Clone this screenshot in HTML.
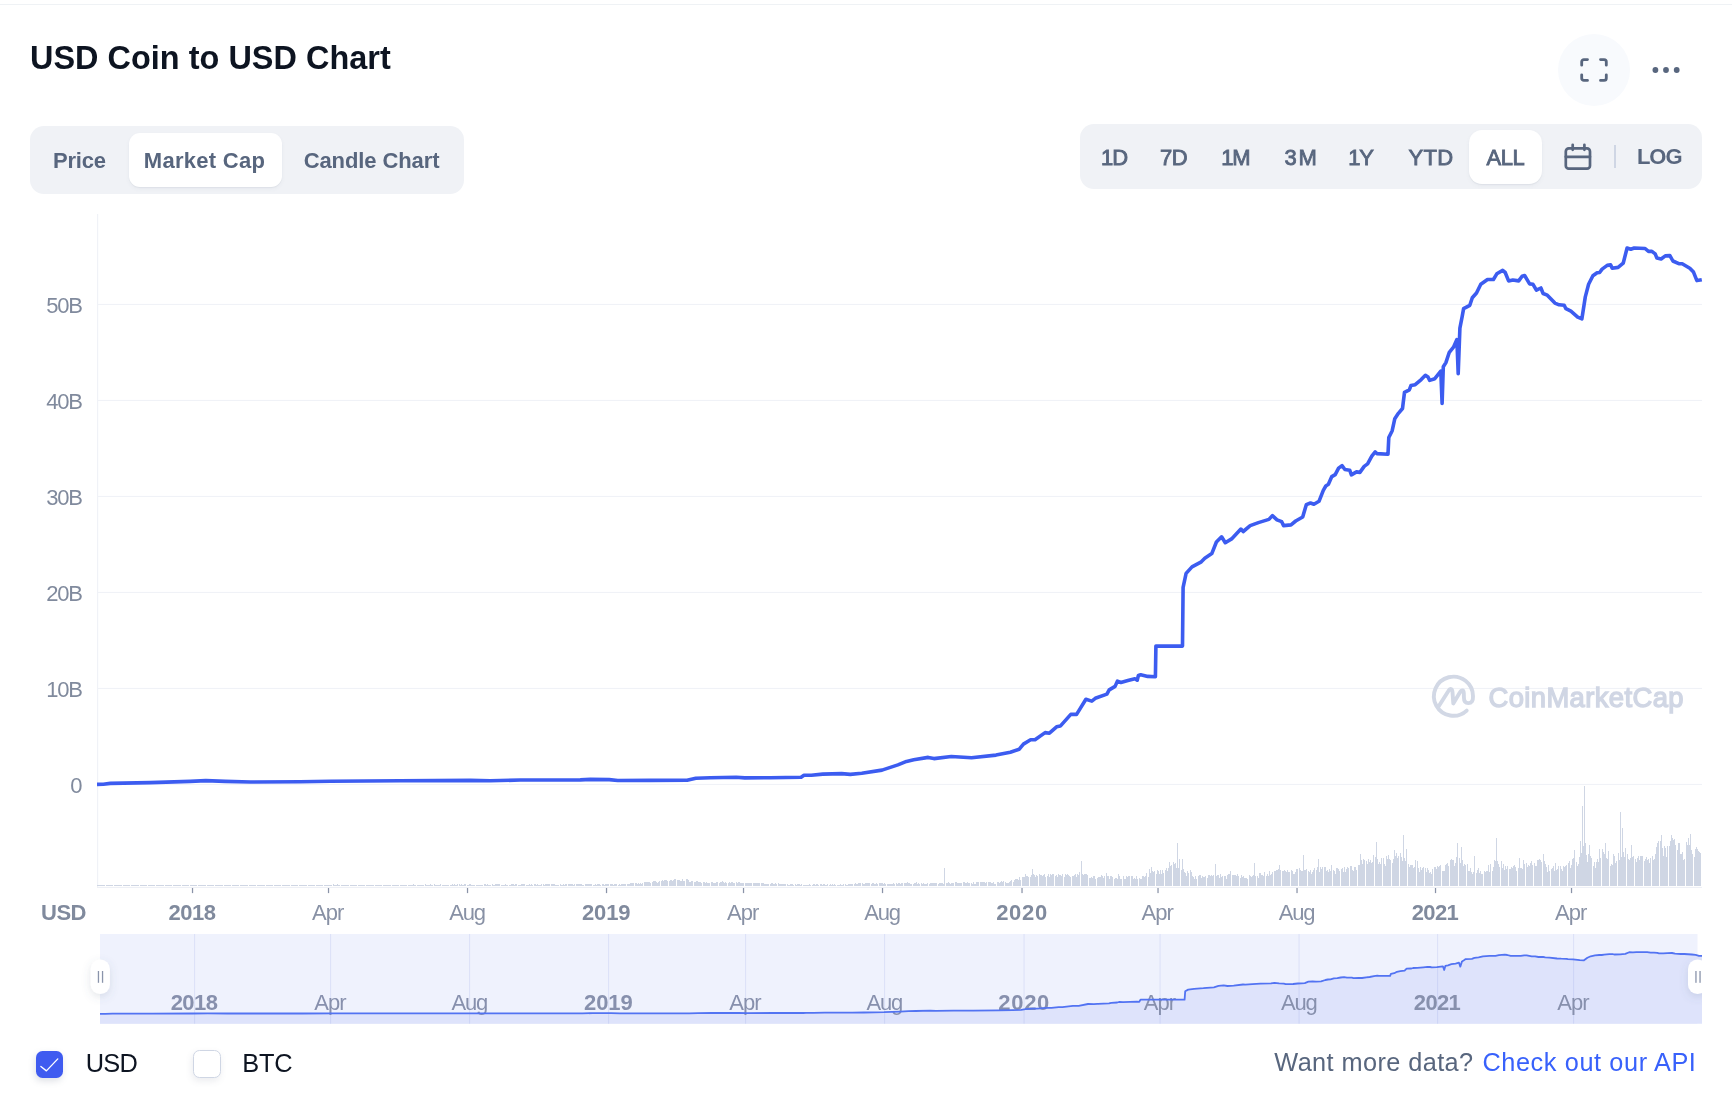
<!DOCTYPE html>
<html><head><meta charset="utf-8"><title>USD Coin to USD Chart</title>
<style>
html,body{margin:0;padding:0;background:#fff;}
body{width:1732px;height:1116px;position:relative;overflow:hidden;font-family:"Liberation Sans",sans-serif;}
#w{position:absolute;left:0;top:0;width:1732px;height:1116px;will-change:transform;}
.abs{position:absolute;white-space:nowrap;}
.topline{left:0;top:3.5px;width:1732px;height:1.5px;background:#eff2f5;}
.seg{background:#f0f2f6;border-radius:14px;}
.pill{background:#fff;border-radius:11px;box-shadow:0 1px 1px rgba(88,102,126,.08),0 2px 4px rgba(88,102,126,.05);}
.circ{left:1558px;top:34px;width:72px;height:72px;border-radius:50%;background:#f8fafd;}
svg.chart{position:absolute;left:0;top:0;}
svg text{font-family:"Liberation Sans",sans-serif;white-space:pre;}
.cb{width:27px;height:27px;border-radius:6.5px;box-sizing:border-box;}
</style></head><body><div id="w">
<div class="abs topline"></div>

<div class="abs circ"></div>
<svg class="abs" style="left:1576px;top:52px" width="36" height="36" viewBox="0 0 36 36" fill="none" stroke="#58667e" stroke-width="2.8" stroke-linecap="round" stroke-linejoin="round">
<path d="M5.7 13.2V9.8a2.2 2.2 0 0 1 2.2-2.2h3.6M24.5 7.6h3.6a2.2 2.2 0 0 1 2.2 2.2v3.4M30.3 22.8v3.4a2.2 2.2 0 0 1-2.2 2.2h-3.6M11.5 28.4H7.9a2.2 2.2 0 0 1-2.2-2.2v-3.4"/>
</svg>
<svg class="abs" style="left:1648px;top:62px" width="36" height="16" viewBox="0 0 36 16"><circle cx="7.4" cy="8" r="2.9" fill="#58667e"/><circle cx="18" cy="8" r="2.9" fill="#58667e"/><circle cx="28.7" cy="8" r="2.9" fill="#58667e"/></svg>

<div class="abs seg" style="left:30px;top:126px;width:434px;height:68px;"></div>
<div class="abs pill" style="left:129px;top:133px;width:153px;height:53.5px;"></div>

<div class="abs seg" style="left:1080px;top:124px;width:622px;height:65px;"></div>
<div class="abs pill" style="left:1469.2px;top:130px;width:72.8px;height:53.9px;border-radius:13px;"></div>
<svg class="abs" style="left:1560px;top:139px" width="36" height="36" viewBox="0 0 36 36" fill="none" stroke="#58667e" stroke-width="2.7" stroke-linecap="round" stroke-linejoin="round">
<rect x="5.8" y="9.4" width="24.2" height="20.3" rx="3"/><path d="M5.8 17.8H30M12.7 5.8v5M24.4 5.8v5"/>
</svg>
<div class="abs" style="left:1614.3px;top:145px;width:1.6px;height:23px;background:#cfd6e4;"></div>

<div class="abs cb" style="left:36px;top:1050.6px;background:#3f5bf0;box-shadow:-1px 3px 7px rgba(88,102,126,.2);"></div>
<svg class="abs" style="left:36px;top:1050.6px" width="27" height="27" viewBox="0 0 27 27" fill="none" stroke="#fff" stroke-width="1.35" stroke-linecap="round" stroke-linejoin="round"><path d="M4.9 15.5L10.4 19.9L21.8 7.9"/></svg>
<div class="abs cb" style="left:193.4px;top:1050.3px;width:27.4px;height:27.6px;background:#fff;border:1.2px solid #cfd6e4;box-shadow:-1px 3px 7px rgba(88,102,126,.12);"></div>

<svg class="chart" width="1732" height="1116" viewBox="0 0 1732 1116" font-family="Liberation Sans, sans-serif">
<defs><clipPath id="nc"><rect x="100" y="930" width="1602" height="100"/></clipPath><filter id="sh" x="-100%" y="-50%" width="300%" height="220%"><feDropShadow dx="0" dy="3" stdDeviation="4" flood-color="#58667e" flood-opacity="0.17"/></filter></defs>
<rect x="97" y="303.9" width="1605" height="1.1" fill="#f0f2f7"/>
<rect x="97" y="399.9" width="1605" height="1.1" fill="#f0f2f7"/>
<rect x="97" y="495.9" width="1605" height="1.1" fill="#f0f2f7"/>
<rect x="97" y="591.9" width="1605" height="1.1" fill="#f0f2f7"/>
<rect x="97" y="687.9" width="1605" height="1.1" fill="#f0f2f7"/>
<rect x="97" y="783.9" width="1605" height="1.1" fill="#f0f2f7"/>
<rect x="97" y="214" width="1.2" height="674" fill="#f0f2f7"/>
<rect x="97" y="886.9" width="1605" height="1.1" fill="#eef0f6"/>
<path d="M1466.7 710.6 A19.55 19.55 0 1 1 1473 696.3 C1473.2 700.6 1471.6 703.1 1468.3 703.1 C1465.4 703.1 1463.9 700.6 1463.9 697.2 L1463.8 693.4 C1463.7 690 1461.6 689.3 1460 692.2 L1453.3 703.4 L1452.5 692.2 C1452.2 688.6 1450.1 688 1448.4 691 L1438.4 706.8" fill="none" stroke="#d2d8e5" stroke-width="3.9" stroke-linecap="round" stroke-linejoin="round"/>
<text x="1488.47" y="707.2" font-size="27.4" font-weight="400" fill="#d0d6e4" letter-spacing="0.4" stroke="#d0d6e4" stroke-width="1.35">CoinMarketCap</text>
<path d="M97.5 884.9V886M98.5 884.8V886M99.5 884.8V886M100.5 884.9V886M101.5 885V886M102.5 885V886M103.5 884.9V886M104.5 885V886M106.5 884.8V886M107.5 884.8V886M108.5 884.7V886M109.5 884.7V886M110.5 884.9V886M111.5 884.9V886M112.5 884.9V886M114.5 884.8V886M115.5 884.8V886M116.5 884.9V886M117.5 884.8V886M118.5 884.9V886M119.5 884.8V886M120.5 884.7V886M121.5 884.9V886M123.5 884.8V886M124.5 884.8V886M125.5 884.7V886M126.5 884.8V886M127.5 884.9V886M128.5 885V886M129.5 884.8V886M131.5 884.7V886M132.5 884.7V886M133.5 884.8V886M134.5 884.7V886M135.5 884.8V886M136.5 884.9V886M137.5 884.8V886M138.5 884.7V886M140.5 884.8V886M141.5 884.9V886M142.5 884.9V886M143.5 885V886M144.5 885V886M145.5 884.9V886M146.5 885V886M148.5 884.8V886M149.5 884.7V886M150.5 884.9V886M151.5 884.9V886M152.5 884.7V886M153.5 884.9V886M154.5 884.9V886M156.5 884.8V886M157.5 885V886M158.5 884.9V886M159.5 884.7V886M160.5 884.8V886M161.5 884.8V886M162.5 884.7V886M163.5 884.7V886M165.5 884.8V886M166.5 884.9V886M167.5 885V886M168.5 884.9V886M169.5 884.9V886M170.5 885V886M171.5 885V886M173.5 885V886M174.5 884.8V886M175.5 884.9V886M176.5 884.9V886M177.5 884.7V886M178.5 884.8V886M179.5 884.9V886M180.5 884.9V886M182.5 884.7V886M183.5 884.9V886M184.5 884.8V886M185.5 884.8V886M186.5 884.8V886M187.5 884.7V886M188.5 884.8V886M190.5 884.9V886M191.5 884.8V886M192.5 884.9V886M193.5 884.7V886M194.5 884.7V886M195.5 884.7V886M196.5 884.8V886M198.5 884.8V886M199.5 885V886M200.5 884.9V886M201.5 884.7V886M202.5 884.7V886M203.5 884.7V886M204.5 884.8V886M205.5 884.9V886M207.5 884.8V886M208.5 884.7V886M209.5 884.7V886M210.5 884.9V886M211.5 884.7V886M212.5 884.7V886M213.5 884.9V886M215.5 884.9V886M216.5 884.7V886M217.5 884.8V886M218.5 884.7V886M219.5 884.9V886M220.5 884.7V886M221.5 884.9V886M222.5 884.7V886M224.5 884.8V886M225.5 884.9V886M226.5 884.7V886M227.5 884.8V886M228.5 884.8V886M229.5 884.7V886M230.5 884.9V886M232.5 884.9V886M233.5 884.9V886M234.5 884.9V886M235.5 884.9V886M236.5 884.8V886M237.5 884.8V886M238.5 884.8V886M240.5 884.8V886M241.5 884.8V886M242.5 885V886M243.5 884.9V886M244.5 884.8V886M245.5 884.9V886M246.5 884.8V886M247.5 884.9V886M249.5 884.9V886M250.5 884.8V886M251.5 884.8V886M252.5 884.7V886M253.5 884.8V886M254.5 884.8V886M255.5 884.8V886M257.5 884.8V886M258.5 884.8V886M259.5 884.7V886M260.5 884.8V886M261.5 884.7V886M262.5 884.9V886M263.5 884.9V886M264.5 885V886M266.5 884.8V886M267.5 884.9V886M268.5 884.8V886M269.5 884.7V886M270.5 884.9V886M271.5 884.8V886M272.5 884.7V886M274.5 884.9V886M275.5 884.8V886M276.5 884.9V886M277.5 884.8V886M278.5 884.8V886M279.5 884.9V886M280.5 884.8V886M282.5 884.9V886M283.5 884.8V886M284.5 884.9V886M285.5 885V886M286.5 884.9V886M287.5 884.9V886M288.5 884.7V886M289.5 884.9V886M291.5 884.8V886M292.5 884.9V886M293.5 884.8V886M294.5 884.9V886M295.5 884.8V886M296.5 884.9V886M297.5 885V886M299.5 884.9V886M300.5 884.8V886M301.5 884.9V886M302.5 884.8V886M303.5 884.9V886M304.5 885V886M305.5 884.9V886M306.5 884.8V886M308.5 884.8V886M309.5 884.8V886M310.5 884.9V886M311.5 884.8V886M312.5 884.9V886M313.5 884.7V886M314.5 884.7V886M316.5 884.8V886M317.5 884.8V886M318.5 884.8V886M319.5 884.8V886M320.5 884.8V886M321.5 884.8V886M322.5 884.9V886M324.5 885V886M325.5 884.9V886M326.5 885V886M327.5 884.8V886M328.5 884.9V886M329.5 884.9V886M330.5 884.9V886M331.5 884.8V886M333.5 884.4V886M334.5 884.6V886M335.5 884.6V886M336.5 884.8V886M337.5 883.5V886M338.5 884.6V886M339.5 884.8V886M341.5 884.8V886M342.5 884.9V886M343.5 884.8V886M344.5 884.7V886M345.5 884.7V886M346.5 884.7V886M347.5 884.8V886M348.5 884.7V886M350.5 884.7V886M351.5 884.9V886M352.5 884.7V886M353.5 884.7V886M354.5 884.9V886M355.5 884.8V886M356.5 884.7V886M358.5 884.7V886M359.5 884.7V886M360.5 884.8V886M361.5 884.9V886M362.5 884.9V886M363.5 884.8V886M364.5 884.7V886M366.5 884.7V886M367.5 884.7V886M368.5 884.7V886M369.5 884.7V886M370.5 884.6V886M371.5 884.8V886M372.5 884.7V886M373.5 884.6V886M375.5 884.7V886M376.5 884.7V886M377.5 884.6V886M378.5 884.6V886M379.5 884.8V886M380.5 884.6V886M381.5 884.6V886M383.5 884.8V886M384.5 884.6V886M385.5 884.6V886M386.5 884.6V886M387.5 884.6V886M388.5 884.5V886M389.5 884.5V886M390.5 884.7V886M392.5 884.6V886M393.5 884.6V886M394.5 884.7V886M395.5 884.7V886M396.5 884.8V886M397.5 884.5V886M398.5 884.5V886M400.5 884.5V886M401.5 884.6V886M402.5 884.6V886M403.5 884.8V886M404.5 884.7V886M405.5 884.7V886M406.5 884.7V886M408.5 884.8V886M409.5 884.5V886M410.5 884.5V886M411.5 884.5V886M412.5 884.6V886M413.5 884.4V886M414.5 884.6V886M415.5 884.6V886M417.5 884.7V886M418.5 884.7V886M419.5 884.7V886M420.5 884.6V886M421.5 884.6V886M422.5 884.5V886M423.5 884.5V886M425.5 884.4V886M426.5 884.5V886M427.5 884.5V886M428.5 884.5V886M429.5 884.6V886M430.5 884.4V886M431.5 884.5V886M432.5 884.6V886M434.5 884.4V886M435.5 884.5V886M436.5 884.5V886M437.5 884.6V886M438.5 884.7V886M439.5 884.6V886M440.5 884.4V886M442.5 884.5V886M443.5 884.6V886M444.5 884.6V886M445.5 884.7V886M446.5 884.5V886M447.5 884.5V886M448.5 884.5V886M450.5 884.6V886M451.5 884.7V886M452.5 884.4V886M453.5 884.5V886M454.5 884.4V886M455.5 884.6V886M456.5 884.6V886M457.5 884.4V886M459.5 884.4V886M460.5 884.6V886M461.5 884.4V886M462.5 884.5V886M463.5 884.5V886M464.5 884.4V886M465.5 884.3V886M467.5 884.6V886M468.5 884.5V886M469.5 884.4V886M470.5 884.4V886M471.5 884.5V886M472.5 884.7V886M473.5 884.6V886M474.5 884.5V886M476.5 884.6V886M477.5 884.5V886M478.5 884.7V886M479.5 884.5V886M480.5 884.6V886M481.5 884.5V886M482.5 884.6V886M484.5 884.4V886M485.5 884.4V886M486.5 884.5V886M487.5 884.3V886M488.5 884.5V886M489.5 884.5V886M490.5 884.5V886M492.5 884.4V886M493.5 884.6V886M494.5 884.6V886M495.5 884.4V886M496.5 884.4V886M497.5 884.4V886M498.5 884.3V886M499.5 884.3V886M501.5 884.5V886M502.5 884.5V886M503.5 884.5V886M504.5 884.6V886M505.5 884.4V886M506.5 884.6V886M507.5 884.6V886M509.5 884.6V886M510.5 884.7V886M511.5 884.4V886M512.5 884.4V886M513.5 884.3V886M514.5 884.5V886M515.5 884.4V886M516.5 884.4V886M518.5 884.5V886M519.5 884.6V886M520.5 884.6V886M521.5 884.3V886M522.5 884.3V886M523.5 884.4V886M524.5 884.3V886M526.5 884.6V886M527.5 884.5V886M528.5 884.6V886M529.5 884.3V886M530.5 884.5V886M531.5 884.4V886M532.5 884.6V886M534.5 884.3V886M535.5 884.3V886M536.5 884.5V886M537.5 884.3V886M538.5 884.5V886M539.5 884.5V886M540.5 884.6V886M541.5 884.3V886M543.5 884.3V886M544.5 884.5V886M545.5 884.3V886M546.5 884.4V886M547.5 884.4V886M548.5 884.3V886M549.5 884.3V886M551.5 884.3V886M552.5 884.3V886M553.5 884.4V886M554.5 884.3V886M555.5 884.5V886M556.5 884.5V886M557.5 884.6V886M558.5 884.5V886M560.5 884.3V886M561.5 884.5V886M562.5 884.6V886M563.5 884.4V886M564.5 884.5V886M565.5 884.4V886M566.5 884.3V886M568.5 884.3V886M569.5 884.2V886M570.5 884.3V886M571.5 884.3V886M572.5 884.4V886M573.5 884.5V886M574.5 884.4V886M576.5 884.4V886M577.5 884.4V886M578.5 884.2V886M579.5 884.1V886M580.5 884.3V886M581.5 884.2V886M582.5 884.5V886M583.5 884.5V886M585.5 884.2V886M586.5 884.1V886M587.5 884.1V886M588.5 884.4V886M589.5 884.1V886M590.5 884.2V886M591.5 884.4V886M593.5 884.5V886M594.5 884.5V886M595.5 884.3V886M596.5 884.6V886M597.5 884.3V886M598.5 884.4V886M599.5 884.2V886M600.5 884.5V886M602.5 884.4V886M603.5 884.2V886M604.5 884.5V886M605.5 884.4V886M606.5 884.4V886M607.5 884.4V886M608.5 884.4V886M610.5 884.1V886M611.5 884.3V886M612.5 884.1V886M613.5 884.5V886M614.5 884.3V886M615.5 884.3V886M616.5 884.3V886M618.5 884.6V886M619.5 884.2V886M620.5 884.5V886M621.5 884.3V886M622.5 884.4V886M623.5 884.1V886M624.5 884.4V886M625.5 883.8V886M627.5 884.2V886M628.5 883.5V886M629.5 883.7V886M630.5 883.2V886M631.5 883.1V886M632.5 883V886M633.5 883V886M635.5 883.4V886M636.5 882.9V886M637.5 883.7V886M638.5 883.3V886M639.5 884V886M640.5 882.9V886M641.5 884V886M642.5 882.5V886M644.5 882V886M645.5 882.1V886M646.5 881.9V886M647.5 882.2V886M648.5 882.1V886M649.5 882V886M650.5 883.1V886M652.5 881.9V886M653.5 881V886M654.5 881.4V886M655.5 881.4V886M656.5 882.3V886M657.5 882.6V886M658.5 881.5V886M659.5 880.9V886M661.5 880.5V886M662.5 879.5V886M663.5 880.8V886M664.5 879.8V886M665.5 879.7V886M666.5 879.9V886M667.5 881.1V886M669.5 880.6V886M670.5 879.6V886M671.5 879.6V886M672.5 881.2V886M673.5 879.7V886M674.5 879.1V886M675.5 879V886M677.5 879.5V886M678.5 880.4V886M679.5 879.7V886M680.5 881.1V886M681.5 881V886M682.5 879.2V886M683.5 880.5V886M684.5 880.8V886M686.5 879.1V886M687.5 879.1V886M688.5 880.4V886M689.5 882.3V886M690.5 881.7V886M691.5 881.3V886M692.5 880.9V886M694.5 881.8V886M695.5 881.8V886M696.5 881.4V886M697.5 881.2V886M698.5 881.5V886M699.5 881.6V886M700.5 882.1V886M701.5 882.9V886M703.5 881.9V886M704.5 881.9V886M705.5 882.7V886M706.5 881.8V886M707.5 883V886M708.5 883V886M709.5 882.8V886M711.5 882V886M712.5 881.8V886M713.5 882.7V886M714.5 882.6V886M715.5 883V886M716.5 881.6V886M717.5 882.1V886M719.5 883V886M720.5 882.1V886M721.5 881.8V886M722.5 881.3V886M723.5 882.3V886M724.5 882.9V886M725.5 882.4V886M726.5 883.1V886M728.5 883.3V886M729.5 881.6V886M730.5 882.7V886M731.5 882.2V886M732.5 881.8V886M733.5 882.5V886M734.5 883.2V886M736.5 882.2V886M737.5 883.4V886M738.5 882.4V886M739.5 882.3V886M740.5 883.1V886M741.5 883.3V886M742.5 883.3V886M743.5 882.8V886M745.5 882.8V886M746.5 882.9V886M747.5 882.7V886M748.5 883.3V886M749.5 882.5V886M750.5 882.5V886M751.5 883.3V886M753.5 882.8V886M754.5 882.8V886M755.5 882.6V886M756.5 883.4V886M757.5 883V886M758.5 883V886M759.5 883.2V886M761.5 883V886M762.5 883.3V886M763.5 883.2V886M764.5 883.7V886M765.5 884.1V886M766.5 884.1V886M767.5 884.3V886M768.5 883.9V886M770.5 884.4V886M771.5 883.4V886M772.5 883.3V886M773.5 884.2V886M774.5 883.9V886M775.5 883.3V886M776.5 884.3V886M778.5 883.3V886M779.5 884.2V886M780.5 884.4V886M781.5 883.5V886M782.5 883.7V886M783.5 883.7V886M784.5 884.4V886M785.5 883.7V886M787.5 884.2V886M788.5 884.7V886M789.5 884.5V886M790.5 884.4V886M791.5 883.7V886M792.5 883.8V886M793.5 884.7V886M795.5 884.4V886M796.5 884.5V886M797.5 884.3V886M798.5 884V886M799.5 884V886M800.5 884.9V886M801.5 884.2V886M803.5 885V886M804.5 884.5V886M805.5 884.9V886M806.5 884.7V886M807.5 884.8V886M808.5 884.8V886M809.5 884.3V886M810.5 884.9V886M812.5 885V886M813.5 884.4V886M814.5 884.3V886M815.5 884.5V886M816.5 884.1V886M817.5 884V886M818.5 884.6V886M820.5 884V886M821.5 884.4V886M822.5 884.7V886M823.5 884.4V886M824.5 884.2V886M825.5 884.5V886M826.5 884.8V886M827.5 884.3V886M829.5 884.8V886M830.5 884.2V886M831.5 884.8V886M832.5 884.1V886M833.5 884.7V886M834.5 884.3V886M835.5 884.8V886M837.5 884.8V886M838.5 884.5V886M839.5 884.7V886M840.5 884V886M841.5 884.8V886M842.5 884.9V886M843.5 883.9V886M845.5 883.9V886M846.5 884.5V886M847.5 884.7V886M848.5 884.4V886M849.5 884.3V886M850.5 883.8V886M851.5 883.8V886M852.5 884.4V886M854.5 884.1V886M855.5 883.4V886M856.5 883.6V886M857.5 883.7V886M858.5 883.3V886M859.5 883.2V886M860.5 883V886M862.5 883.2V886M863.5 883.7V886M864.5 884.2V886M865.5 883.2V886M866.5 883.2V886M867.5 883.4V886M868.5 883.2V886M869.5 883V886M871.5 883.8V886M872.5 882.9V886M873.5 883.2V886M874.5 884V886M875.5 884V886M876.5 882.7V886M877.5 883.8V886M879.5 883.1V886M880.5 883V886M881.5 882.6V886M882.5 883V886M883.5 883.5V886M884.5 883.3V886M885.5 883.8V886M887.5 883.5V886M888.5 883.6V886M889.5 884.1V886M890.5 883.5V886M891.5 883.5V886M892.5 883.7V886M893.5 882.5V886M894.5 883.5V886M896.5 883.3V886M897.5 883.8V886M898.5 882.7V886M899.5 883V886M900.5 883.5V886M901.5 883.4V886M902.5 882.6V886M904.5 883V886M905.5 882.9V886M906.5 882.5V886M907.5 882.4V886M908.5 883V886M909.5 883.1V886M910.5 884V886M911.5 883.6V886M913.5 883.6V886M914.5 883.3V886M915.5 882.9V886M916.5 882.4V886M917.5 883.7V886M918.5 882.5V886M919.5 883.6V886M921.5 882.9V886M922.5 883.9V886M923.5 882.9V886M924.5 883.8V886M925.5 883.7V886M926.5 883.5V886M927.5 882.6V886M929.5 883.6V886M930.5 882.9V886M931.5 882.8V886M932.5 882.5V886M933.5 883.4V886M934.5 883V886M935.5 883.1V886M936.5 882.9V886M938.5 883.5V886M939.5 883.1V886M940.5 883.1V886M941.5 883.1V886M942.5 882.9V886M943.5 883.9V886M944.5 868V886M946.5 882.8V886M947.5 883.2V886M948.5 882.3V886M949.5 882.6V886M950.5 883.7V886M951.5 882.7V886M952.5 883.2V886M953.5 882.9V886M955.5 882.3V886M956.5 882.4V886M957.5 883V886M958.5 883.1V886M959.5 882.8V886M960.5 883.4V886M961.5 883.1V886M963.5 882.4V886M964.5 882.2V886M965.5 882.6V886M966.5 882.6V886M967.5 882.4V886M968.5 883V886M969.5 883.1V886M971.5 882.6V886M972.5 883.7V886M973.5 882.2V886M974.5 883.6V886M975.5 883.9V886M976.5 882.2V886M977.5 882.4V886M978.5 881.9V886M980.5 882.2V886M981.5 882.1V886M982.5 882.1V886M983.5 882.1V886M984.5 882V886M985.5 883V886M986.5 882.1V886M988.5 882.2V886M989.5 881.9V886M990.5 882.2V886M991.5 882.8V886M992.5 882.9V886M993.5 882.3V886M994.5 883.5V886M995.5 883.7V886M997.5 882.2V886M998.5 881.7V886M999.5 883.3V886M1000.5 882.3V886M1001.5 881.3V886M1002.5 881.9V886M1003.5 881.4V886M1005.5 882.4V886M1006.5 882.9V886M1007.5 882.6V886M1008.5 882.6V886M1009.5 881.5V886M1010.5 880.6V886M1011.5 880.1V886M1013.5 881.6V886M1014.5 879.8V886M1015.5 879.4V886M1016.5 879.2V886M1017.5 879.4V886M1018.5 880V886M1019.5 876.7V886M1020.5 880V886M1022.5 876.5V886M1023.5 877V886M1024.5 877.3V886M1025.5 873.5V886M1026.5 876.4V886M1027.5 876.1V886M1028.5 877.4V886M1030.5 876.6V886M1031.5 875.3V886M1032.5 869.4V886M1033.5 874V886M1034.5 874.9V886M1035.5 877.3V886M1036.5 874.9V886M1037.5 876.2V886M1039.5 873.8V886M1040.5 874.7V886M1041.5 875.3V886M1042.5 875.8V886M1043.5 875V886M1044.5 874.2V886M1045.5 877.4V886M1047.5 876V886M1048.5 874.4V886M1049.5 877.4V886M1050.5 874.4V886M1051.5 874.9V886M1052.5 873.9V886M1053.5 874.2V886M1055.5 875.5V886M1056.5 875V886M1057.5 876.6V886M1058.5 873.8V886M1059.5 874.6V886M1060.5 875.1V886M1061.5 876.3V886M1062.5 874.2V886M1064.5 877V886M1065.5 874.4V886M1066.5 874.8V886M1067.5 873.6V886M1068.5 874.8V886M1069.5 876.4V886M1070.5 876.9V886M1072.5 876.3V886M1073.5 876V886M1074.5 875V886M1075.5 873.7V886M1076.5 876.8V886M1077.5 874.2V886M1078.5 874.6V886M1079.5 872V886M1081.5 861V886M1082.5 874V886M1083.5 874.7V886M1084.5 874.3V886M1085.5 873.8V886M1086.5 874.4V886M1087.5 874.6V886M1089.5 878V886M1090.5 877.5V886M1091.5 877.3V886M1092.5 877.5V886M1093.5 875.7V886M1094.5 876.4V886M1095.5 878.5V886M1097.5 878.4V886M1098.5 876.8V886M1099.5 876.5V886M1100.5 877.1V886M1101.5 875.4V886M1102.5 875.7V886M1103.5 878.2V886M1104.5 875.8V886M1106.5 873.1V886M1107.5 875.6V886M1108.5 876.1V886M1109.5 878.6V886M1110.5 876.3V886M1111.5 876.3V886M1112.5 876.5V886M1114.5 878.6V886M1115.5 878.4V886M1116.5 877.5V886M1117.5 878.5V886M1118.5 874.4V886M1119.5 876.3V886M1120.5 878.9V886M1121.5 878.7V886M1123.5 876.1V886M1124.5 878.6V886M1125.5 879.2V886M1126.5 876.3V886M1127.5 877.2V886M1128.5 875.9V886M1129.5 876.3V886M1131.5 876V886M1132.5 876.4V886M1133.5 878.5V886M1134.5 878.4V886M1135.5 879V886M1136.5 876.3V886M1137.5 878.5V886M1139.5 878.2V886M1140.5 879.1V886M1141.5 879.4V886M1142.5 876.3V886M1143.5 876.4V886M1144.5 877.1V886M1145.5 876.4V886M1146.5 873.1V886M1148.5 876.5V886M1149.5 869.4V886M1150.5 872.6V886M1151.5 867.2V886M1152.5 871V886M1153.5 871.5V886M1154.5 870.9V886M1156.5 874.1V886M1157.5 870V886M1158.5 870.9V886M1159.5 873.6V886M1160.5 870.2V886M1161.5 874.2V886M1162.5 870.4V886M1163.5 872.5V886M1165.5 869.6V886M1166.5 867.6V886M1167.5 871.4V886M1168.5 867.5V886M1169.5 861.9V886M1170.5 865.5V886M1171.5 864.6V886M1173.5 861.7V886M1174.5 864V886M1175.5 863.1V886M1176.5 868V886M1177.5 843V886M1178.5 868.1V886M1179.5 859V886M1181.5 870V886M1182.5 859V886M1183.5 868.9V886M1184.5 872.2V886M1185.5 872.8V886M1186.5 875.8V886M1187.5 871.2V886M1188.5 873.1V886M1190.5 870.4V886M1191.5 872.2V886M1192.5 876V886M1193.5 876.7V886M1194.5 878.6V886M1195.5 875.8V886M1196.5 878.7V886M1198.5 876.3V886M1199.5 875.4V886M1200.5 874.5V886M1201.5 877.9V886M1202.5 876.3V886M1203.5 877.3V886M1204.5 876.8V886M1205.5 875.9V886M1207.5 877.9V886M1208.5 875.4V886M1209.5 874.7V886M1210.5 876.2V886M1211.5 874.6V886M1212.5 876.1V886M1213.5 874.9V886M1215.5 864V886M1216.5 876.4V886M1217.5 874.9V886M1218.5 874.6V886M1219.5 877.8V886M1220.5 874.4V886M1221.5 876.9V886M1222.5 875.5V886M1224.5 875.8V886M1225.5 876.2V886M1226.5 878.5V886M1227.5 874.6V886M1228.5 874.2V886M1229.5 874.4V886M1230.5 871V886M1232.5 874.8V886M1233.5 874.9V886M1234.5 875.4V886M1235.5 875.3V886M1236.5 875.7V886M1237.5 874.1V886M1238.5 876.4V886M1240.5 877.8V886M1241.5 874.6V886M1242.5 876.9V886M1243.5 875.9V886M1244.5 878V886M1245.5 877.5V886M1246.5 877.6V886M1247.5 878.6V886M1249.5 875.3V886M1250.5 875.7V886M1251.5 877.2V886M1252.5 875.9V886M1253.5 874.8V886M1254.5 863V886M1255.5 876.4V886M1257.5 875.5V886M1258.5 877.5V886M1259.5 872.7V886M1260.5 873.1V886M1261.5 874.5V886M1262.5 874.6V886M1263.5 875.7V886M1264.5 871.6V886M1266.5 875.6V886M1267.5 873.7V886M1268.5 875.8V886M1269.5 870.9V886M1270.5 874.7V886M1271.5 873.9V886M1272.5 872.2V886M1274.5 870.8V886M1275.5 870.7V886M1276.5 870.4V886M1277.5 870.1V886M1278.5 869.3V886M1279.5 865V886M1280.5 869.7V886M1282.5 871.1V886M1283.5 871V886M1284.5 870V886M1285.5 870.6V886M1286.5 871.5V886M1287.5 870.3V886M1288.5 871.9V886M1289.5 872.3V886M1291.5 870V886M1292.5 871.1V886M1293.5 873.5V886M1294.5 874.4V886M1295.5 871.5V886M1296.5 869.1V886M1297.5 868.8V886M1299.5 867.8V886M1300.5 870.4V886M1301.5 871.2V886M1302.5 870.9V886M1303.5 855V886M1304.5 870.1V886M1305.5 870.3V886M1306.5 869.4V886M1308.5 871.2V886M1309.5 871.7V886M1310.5 869.6V886M1311.5 873.5V886M1312.5 871.8V886M1313.5 870.3V886M1314.5 867.6V886M1316.5 870V886M1317.5 866.9V886M1318.5 859V886M1319.5 872.1V886M1320.5 867.3V886M1321.5 869.3V886M1322.5 867.1V886M1324.5 867.1V886M1325.5 866.5V886M1326.5 871.2V886M1327.5 869.5V886M1328.5 872.1V886M1329.5 869.1V886M1330.5 870.8V886M1331.5 864.5V886M1333.5 870V886M1334.5 871.1V886M1335.5 874V886M1336.5 867.9V886M1337.5 868V886M1338.5 868.8V886M1339.5 870.9V886M1341.5 868.9V886M1342.5 868.3V886M1343.5 871.8V886M1344.5 867.1V886M1345.5 871.7V886M1346.5 868.5V886M1347.5 867.3V886M1348.5 868.2V886M1350.5 866.2V886M1351.5 865.7V886M1352.5 869.8V886M1353.5 871.2V886M1354.5 866.5V886M1355.5 866.6V886M1356.5 870.2V886M1358.5 864.9V886M1359.5 865.1V886M1360.5 854V886M1361.5 859.8V886M1362.5 864V886M1363.5 859.3V886M1364.5 860.2V886M1366.5 860.8V886M1367.5 863.9V886M1368.5 858.9V886M1369.5 862.4V886M1370.5 860.4V886M1371.5 863.2V886M1372.5 862V886M1373.5 854.5V886M1375.5 856.9V886M1376.5 841.6V886M1377.5 858.9V886M1378.5 863.5V886M1379.5 861.5V886M1380.5 863.8V886M1381.5 858V886M1383.5 857.6V886M1384.5 863.6V886M1385.5 865.5V886M1386.5 855.9V886M1387.5 858.9V886M1388.5 854.8V886M1389.5 859.3V886M1390.5 859.9V886M1392.5 862.9V886M1393.5 859.2V886M1394.5 850.3V886M1395.5 856.1V886M1396.5 853.1V886M1397.5 858.4V886M1398.5 856.4V886M1400.5 853.2V886M1401.5 856.6V886M1402.5 860.7V886M1403.5 835.4V886M1404.5 858.2V886M1405.5 860.7V886M1406.5 849V886M1408.5 863.7V886M1409.5 867.1V886M1410.5 864.5V886M1411.5 865.3V886M1412.5 865.3V886M1413.5 868.2V886M1414.5 866.9V886M1415.5 860.3V886M1417.5 860.5V886M1418.5 868.2V886M1419.5 871.6V886M1420.5 867.2V886M1421.5 869.7V886M1422.5 868V886M1423.5 866.6V886M1425.5 867.6V886M1426.5 871.7V886M1427.5 867.8V886M1428.5 869.5V886M1429.5 872.7V886M1430.5 871.8V886M1431.5 874.1V886M1432.5 869.3V886M1434.5 867.2V886M1435.5 867.3V886M1436.5 868.9V886M1437.5 866.1V886M1438.5 866.7V886M1439.5 865.5V886M1440.5 865.4V886M1442.5 870.9V886M1443.5 871.3V886M1444.5 870.5V886M1445.5 864.9V886M1446.5 863.9V886M1447.5 862.6V886M1448.5 866V886M1450.5 860.2V886M1451.5 858.9V886M1452.5 859.6V886M1453.5 860.1V886M1454.5 866.2V886M1455.5 863V886M1456.5 857.4V886M1457.5 843.3V886M1459.5 858.4V886M1460.5 863.1V886M1461.5 846.5V886M1462.5 860.2V886M1463.5 866.4V886M1464.5 863.7V886M1465.5 865V886M1467.5 864.1V886M1468.5 870.8V886M1469.5 871.3V886M1470.5 868.4V886M1471.5 871.6V886M1472.5 873.5V886M1473.5 872.4V886M1474.5 855.5V886M1476.5 873.3V886M1477.5 869.8V886M1478.5 868V886M1479.5 872.8V886M1480.5 871.3V886M1481.5 874.2V886M1482.5 873.5V886M1484.5 870.9V886M1485.5 871.5V886M1486.5 871V886M1487.5 871V886M1488.5 865.3V886M1489.5 872.4V886M1490.5 863.9V886M1492.5 870.5V886M1493.5 867.2V886M1494.5 859.8V886M1495.5 860.5V886M1496.5 837.5V886M1497.5 860.5V886M1498.5 864.1V886M1499.5 867.3V886M1501.5 860.6V886M1502.5 867.5V886M1503.5 863.6V886M1504.5 870.1V886M1505.5 866.1V886M1506.5 869.2V886M1507.5 865.8V886M1509.5 868.6V886M1510.5 869.2V886M1511.5 867V886M1512.5 868.1V886M1513.5 865.9V886M1514.5 864.6V886M1515.5 867.1V886M1516.5 870.8V886M1518.5 867.7V886M1519.5 858V886M1520.5 868V886M1521.5 868V886M1522.5 868.7V886M1523.5 860.4V886M1524.5 863.6V886M1526.5 863.1V886M1527.5 866.7V886M1528.5 865V886M1529.5 866.4V886M1530.5 863.4V886M1531.5 860.8V886M1532.5 864.8V886M1534.5 862.8V886M1535.5 866.1V886M1536.5 866V886M1537.5 860.4V886M1538.5 860.4V886M1539.5 859.3V886M1540.5 860.4V886M1541.5 862V886M1543.5 854.4V886M1544.5 861.3V886M1545.5 863.5V886M1546.5 866.7V886M1547.5 871.7V886M1548.5 865.1V886M1549.5 871.2V886M1551.5 868.6V886M1552.5 867.8V886M1553.5 865.7V886M1554.5 870.6V886M1555.5 863V886M1556.5 869.8V886M1557.5 869.2V886M1558.5 866.2V886M1560.5 866.1V886M1561.5 868.8V886M1562.5 870.6V886M1563.5 865.8V886M1564.5 866.8V886M1565.5 866.4V886M1566.5 865V886M1568.5 863.1V886M1569.5 860.7V886M1570.5 867.5V886M1571.5 865.1V886M1572.5 859V886M1573.5 858.4V886M1574.5 849.8V886M1576.5 861.6V886M1577.5 865.5V886M1578.5 863.7V886M1579.5 856.9V886M1580.5 841V886M1581.5 852.5V886M1582.5 805.5V886M1583.5 846V886M1584.5 786.2V886M1585.5 843.3V886M1586.5 854.9V886M1587.5 861.8V886M1588.5 854.4V886M1589.5 845.2V886M1590.5 855.5V886M1591.5 858.1V886M1593.5 865.5V886M1594.5 862V886M1595.5 868.1V886M1596.5 862.3V886M1597.5 859.2V886M1598.5 862.3V886M1599.5 849V886M1600.5 857.6V886M1602.5 849V886M1603.5 851.9V886M1604.5 853.5V886M1605.5 842.7V886M1606.5 858V886M1607.5 858.9V886M1608.5 851.1V886M1610.5 865.7V886M1611.5 863.5V886M1612.5 865.3V886M1613.5 854.4V886M1614.5 856.4V886M1615.5 862.7V886M1616.5 861V886M1618.5 853V886M1619.5 859.8V886M1620.5 812.3V886M1621.5 856.8V886M1622.5 828.3V886M1623.5 852.4V886M1624.5 856.6V886M1625.5 847.5V886M1627.5 853.7V886M1628.5 858.6V886M1629.5 860.3V886M1630.5 857.5V886M1631.5 844.6V886M1632.5 857.2V886M1633.5 855.6V886M1635.5 858.6V886M1636.5 862.4V886M1637.5 858.3V886M1638.5 855.7V886M1639.5 860.2V886M1640.5 856.4V886M1641.5 856.3V886M1642.5 856.3V886M1644.5 861.2V886M1645.5 858.9V886M1646.5 857.2V886M1647.5 859.5V886M1648.5 858.7V886M1649.5 862.7V886M1650.5 858.4V886M1652.5 856.3V886M1653.5 860.3V886M1654.5 859.4V886M1655.5 853.6V886M1656.5 847.3V886M1657.5 842.8V886M1658.5 840.5V886M1660.5 841.2V886M1661.5 835.4V886M1662.5 847.5V886M1663.5 855.9V886M1664.5 845.9V886M1665.5 847.6V886M1666.5 856.6V886M1667.5 846V886M1669.5 846.3V886M1670.5 841V886M1671.5 835.4V886M1672.5 838.4V886M1673.5 840.3V886M1674.5 839.1V886M1675.5 845V886M1677.5 849.6V886M1678.5 842.8V886M1679.5 843.4V886M1680.5 854.3V886M1681.5 853.9V886M1682.5 852.4V886M1683.5 860.3V886M1684.5 859V886M1686.5 842V886M1687.5 844.7V886M1688.5 838.3V886M1689.5 844.6V886M1690.5 834.3V886M1691.5 850.3V886M1692.5 854.2V886M1694.5 857.4V886M1695.5 849.2V886M1696.5 847V886M1697.5 849.3V886M1698.5 851V886M1699.5 852.2V886M1700.5 852.7V886" stroke="#cfd6e4" stroke-width="1" fill="none" shape-rendering="crispEdges"/>
<rect x="191.9" y="888" width="1.25" height="5.1" fill="#8a93a8"/>
<rect x="327.9" y="888" width="1.25" height="5.1" fill="#8a93a8"/>
<rect x="466.9" y="888" width="1.25" height="5.1" fill="#8a93a8"/>
<rect x="605.9" y="888" width="1.25" height="5.1" fill="#8a93a8"/>
<rect x="742.9" y="888" width="1.25" height="5.1" fill="#8a93a8"/>
<rect x="881.9" y="888" width="1.25" height="5.1" fill="#8a93a8"/>
<rect x="1021.4" y="888" width="1.25" height="5.1" fill="#8a93a8"/>
<rect x="1157.4" y="888" width="1.25" height="5.1" fill="#8a93a8"/>
<rect x="1296.4" y="888" width="1.25" height="5.1" fill="#8a93a8"/>
<rect x="1434.9" y="888" width="1.25" height="5.1" fill="#8a93a8"/>
<rect x="1570.9" y="888" width="1.25" height="5.1" fill="#8a93a8"/>
<path d="M97 784.4 L103.3 784.2 L110.3 783.4 L150.3 782.6 L190.3 781.4 L205.8 780.6 L225.3 781.4 L250.3 782 L300.3 781.8 L330.3 781.2 L400.3 780.8 L470.3 780.4 L490.3 780.8 L520.3 780 L560.3 780 L580.3 779.9 L590.3 779.4 L609.2 779.6 L617.8 780.5 L650.3 780.4 L687.1 780.2 L695.8 778.2 L710.3 777.7 L736.2 777.3 L744.8 777.9 L770.3 777.7 L801.1 777.3 L804 775.3 L811.3 775.3 L822.8 774.1 L841.6 773.6 L850.3 774.4 L861.8 773.3 L882 770.1 L897.9 764.9 L906.5 761.4 L913.7 759.7 L928.2 757.4 L933.9 758.6 L951.3 756.5 L971.5 757.7 L996 755.1 L1010.3 752.2 L1019.1 749.3 L1023.4 744.1 L1030.6 739.8 L1035 739.8 L1045.1 732.6 L1049.4 733.2 L1056.6 726.8 L1060.3 726.1 L1070.8 714.4 L1076.6 714.4 L1085.9 699.3 L1091.8 701.1 L1095.3 698.3 L1106.9 694.1 L1109.2 689.9 L1115.1 686.4 L1117.4 681.1 L1120.9 682.5 L1127.9 680.6 L1134.9 678.8 L1137.2 680.2 L1138.4 675.5 L1140.7 674.8 L1147.7 676.4 L1155.4 676.7 L1155.9 646.1 L1182.5 646.1 L1183.1 587.4 L1186.1 573.4 L1192 566.9 L1201.3 561.8 L1204.8 558.3 L1211.8 553.6 L1216.4 542 L1221.6 536.8 L1225.3 542.7 L1231.6 538.9 L1240.9 529.1 L1243.2 531.5 L1250.2 525.6 L1258.4 522.6 L1268.9 519.4 L1272.4 515.6 L1277 519.8 L1281.7 521.7 L1283.6 525.6 L1291 524.9 L1295.7 521 L1302.7 517 L1306.3 504.7 L1310.5 503 L1313.9 504.2 L1319 501.3 L1323.3 490.3 L1325.8 486 L1328.4 484.3 L1331.8 476.6 L1335.2 474.6 L1338.6 468.1 L1342 465.6 L1344.9 469.5 L1349.7 470.2 L1351.4 474.9 L1356.5 471.9 L1359.9 472.4 L1364.2 466.4 L1367.6 463.9 L1371.8 456.2 L1375.2 451.9 L1376.9 453.6 L1388 454.2 L1388.8 437.5 L1392.2 430.7 L1394.8 418.7 L1398.2 413.6 L1402.5 408.5 L1404.5 392.3 L1409.3 389.8 L1411 385.5 L1415.2 384.7 L1421.2 379.6 L1425.4 375.3 L1428 377 L1429.7 380.4 L1434.8 378.7 L1440.8 371.1 L1442.1 403.4 L1443.3 366.8 L1445.9 362.6 L1449.3 352.3 L1453.5 347.2 L1456.9 339.6 L1458.2 373.6 L1459.9 328.1 L1462.2 316.3 L1463.6 308.7 L1469.8 305.3 L1472.3 297.7 L1476.5 293 L1480.8 284.3 L1487.5 279.5 L1493.4 279.5 L1496.8 273.8 L1502.7 270.4 L1505.2 272.5 L1508.6 280.9 L1512.8 280 L1518.7 280.9 L1522.1 276.2 L1524.6 275.5 L1529.6 283.9 L1533 284.3 L1536.4 290.2 L1540.9 288 L1543.1 293.5 L1547.3 295.2 L1554.9 303.1 L1559.1 304.8 L1564.2 305.3 L1565.9 308.7 L1570.9 311.2 L1577.7 317.1 L1581.9 318.8 L1585.3 296.9 L1588.6 284.3 L1592.9 275.8 L1597.1 272.8 L1599.6 272.5 L1602.1 269.1 L1607.2 265.4 L1610.6 264.9 L1612.2 268.2 L1618.1 267.4 L1623.2 263.2 L1627.1 248 L1630.8 249.2 L1634.2 248 L1645.1 248.5 L1648.5 251.4 L1651.9 251.4 L1655.2 253.9 L1656.9 258.1 L1661.1 259 L1665.3 255.9 L1669.9 255.6 L1672.9 261 L1678.8 263.7 L1682.2 263.7 L1689.8 268.2 L1693.5 272.1 L1696.9 280.6 L1700.2 280 L1701.8 279.7" fill="none" stroke="#3c5cf0" stroke-width="3.6" stroke-linejoin="round" stroke-linecap="butt"/>
<text x="46.2" y="312.6" font-size="22" font-weight="400" fill="#808a9d" letter-spacing="-1.19">50B</text>
<text x="46.2" y="408.6" font-size="22" font-weight="400" fill="#808a9d" letter-spacing="-1.19">40B</text>
<text x="46.2" y="504.6" font-size="22" font-weight="400" fill="#808a9d" letter-spacing="-1.19">30B</text>
<text x="46.2" y="600.6" font-size="22" font-weight="400" fill="#808a9d" letter-spacing="-1.19">20B</text>
<text x="46.2" y="696.6" font-size="22" font-weight="400" fill="#808a9d" letter-spacing="-1.19">10B</text>
<text x="70.3" y="792.6" font-size="22" font-weight="400" fill="#808a9d" letter-spacing="-1.19">0</text>
<text x="41.1" y="919.8" font-size="22" font-weight="700" fill="#808a9d" letter-spacing="-0.53">USD</text>
<text x="168.55" y="919.8" font-size="22" font-weight="700" fill="#808a9d" letter-spacing="-0.54">2018</text>
<text x="312.1" y="919.8" font-size="22" font-weight="400" fill="#8891a5" letter-spacing="-0.95">Apr</text>
<text x="449.35" y="919.8" font-size="22" font-weight="400" fill="#8891a5" letter-spacing="-1.2">Aug</text>
<text x="581.9" y="919.8" font-size="22" font-weight="700" fill="#808a9d" letter-spacing="-0.1">2019</text>
<text x="727.1" y="919.8" font-size="22" font-weight="400" fill="#8891a5" letter-spacing="-0.95">Apr</text>
<text x="864.35" y="919.8" font-size="22" font-weight="400" fill="#8891a5" letter-spacing="-1.2">Aug</text>
<text x="996.2" y="919.8" font-size="22" font-weight="700" fill="#808a9d" letter-spacing="0.7">2020</text>
<text x="1141.6" y="919.8" font-size="22" font-weight="400" fill="#8891a5" letter-spacing="-0.95">Apr</text>
<text x="1278.85" y="919.8" font-size="22" font-weight="400" fill="#8891a5" letter-spacing="-1.2">Aug</text>
<text x="1411.7" y="919.8" font-size="22" font-weight="700" fill="#808a9d" letter-spacing="-0.64">2021</text>
<text x="1555.1" y="919.8" font-size="22" font-weight="400" fill="#8891a5" letter-spacing="-0.95">Apr</text>
<g clip-path="url(#nc)">
<rect x="100" y="934" width="1597.5" height="89.8" fill="#eff2fd"/>
<path d="M99.4 1013.8 L105.4 1013.8 L112.4 1013.7 L152.4 1013.6 L192.4 1013.5 L207.9 1013.4 L227.4 1013.5 L252.4 1013.5 L302.4 1013.5 L332.4 1013.4 L402.4 1013.4 L472.4 1013.3 L492.4 1013.4 L522.4 1013.3 L562.4 1013.3 L582.4 1013.3 L592.4 1013.2 L611.3 1013.2 L619.9 1013.4 L652.4 1013.3 L689.2 1013.3 L697.9 1013.1 L712.4 1013 L738.3 1013 L746.9 1013.1 L772.4 1013 L803.2 1013 L806.1 1012.8 L813.4 1012.8 L824.9 1012.6 L843.7 1012.6 L852.4 1012.7 L863.9 1012.5 L884.1 1012.2 L900 1011.6 L908.6 1011.2 L915.8 1011 L930.3 1010.7 L936 1010.8 L953.4 1010.6 L973.6 1010.7 L998.1 1010.4 L1012.4 1010.1 L1021.2 1009.8 L1025.5 1009.2 L1032.7 1008.7 L1037.1 1008.7 L1047.2 1007.8 L1051.5 1007.9 L1058.7 1007.2 L1062.4 1007.1 L1072.9 1005.8 L1078.7 1005.8 L1088 1004 L1093.9 1004.2 L1097.4 1003.9 L1109 1003.4 L1111.3 1002.9 L1117.2 1002.5 L1119.5 1001.9 L1123 1002.1 L1130 1001.9 L1137 1001.7 L1139.3 1001.8 L1140.5 999.6 L1142.8 999.6 L1149.8 999.6 L1157.5 999.6 L1158 999.6 L1184.6 999.6 L1185.2 991.2 L1188.2 989.6 L1194.1 988.8 L1203.4 988.2 L1206.9 987.8 L1213.9 987.3 L1218.5 985.9 L1223.7 985.4 L1227.4 986 L1233.7 985.6 L1243 984.5 L1245.3 984.7 L1252.3 984.1 L1260.5 983.7 L1271 983.4 L1274.5 982.9 L1279.1 983.4 L1283.8 983.6 L1285.7 984.1 L1293.1 984 L1297.8 983.5 L1304.8 983.1 L1308.4 981.7 L1312.6 981.5 L1316 981.6 L1321.1 981.3 L1325.4 980 L1327.9 979.5 L1330.5 979.3 L1333.9 978.4 L1337.3 978.2 L1340.7 977.5 L1344.1 977.2 L1347 977.6 L1351.8 977.7 L1353.5 978.2 L1358.6 977.9 L1362 978 L1366.3 977.3 L1369.7 977 L1373.9 976.1 L1377.3 975.6 L1379 975.8 L1390.1 975.9 L1390.9 973.9 L1394.3 973.2 L1396.9 971.8 L1400.3 971.2 L1404.6 970.6 L1406.6 968.7 L1411.4 968.5 L1413.1 968 L1417.3 967.9 L1423.3 967.3 L1427.5 966.8 L1430.1 967 L1431.8 967.4 L1436.9 967.2 L1442.9 966.3 L1444.2 970 L1445.4 965.8 L1448 965.3 L1451.4 964.2 L1455.6 963.6 L1459 962.7 L1460.3 966.6 L1462 961.4 L1464.3 960 L1465.7 959.1 L1471.9 958.8 L1474.4 957.9 L1478.6 957.3 L1482.9 956.3 L1489.6 955.8 L1495.5 955.8 L1498.9 955.1 L1504.8 954.7 L1507.3 955 L1510.7 955.9 L1514.9 955.8 L1520.8 955.9 L1524.2 955.4 L1526.7 955.3 L1531.7 956.3 L1535.1 956.3 L1538.5 957 L1543 956.8 L1545.2 957.4 L1549.4 957.6 L1557 958.5 L1561.2 958.7 L1566.3 958.8 L1568 959.1 L1573 959.4 L1579.8 960.1 L1584 960.3 L1587.4 957.8 L1590.7 956.3 L1595 955.4 L1599.2 955 L1601.7 955 L1604.2 954.6 L1609.3 954.2 L1612.7 954.1 L1614.3 954.5 L1620.2 954.4 L1625.3 953.9 L1629.2 952.2 L1632.9 952.3 L1636.3 952.2 L1647.2 952.2 L1650.6 952.6 L1654 952.6 L1657.3 952.8 L1659 953.3 L1663.2 953.4 L1667.4 953.1 L1672 953 L1675 953.7 L1680.9 954 L1684.3 954 L1691.9 954.5 L1695.6 954.9 L1699 955.9 L1702.3 955.8 L1703.9 955.8 L1703.9 1023.8 L99.4 1023.8 Z" fill="#dee3fb"/>
<rect x="194.1" y="934" width="1" height="89.8" fill="#5b6fd0" fill-opacity="0.13"/>
<rect x="330.1" y="934" width="1" height="89.8" fill="#5b6fd0" fill-opacity="0.13"/>
<rect x="469.1" y="934" width="1" height="89.8" fill="#5b6fd0" fill-opacity="0.13"/>
<rect x="608.1" y="934" width="1" height="89.8" fill="#5b6fd0" fill-opacity="0.13"/>
<rect x="745.1" y="934" width="1" height="89.8" fill="#5b6fd0" fill-opacity="0.13"/>
<rect x="884.1" y="934" width="1" height="89.8" fill="#5b6fd0" fill-opacity="0.13"/>
<rect x="1023.6" y="934" width="1" height="89.8" fill="#5b6fd0" fill-opacity="0.13"/>
<rect x="1159.6" y="934" width="1" height="89.8" fill="#5b6fd0" fill-opacity="0.13"/>
<rect x="1298.6" y="934" width="1" height="89.8" fill="#5b6fd0" fill-opacity="0.13"/>
<rect x="1437.1" y="934" width="1" height="89.8" fill="#5b6fd0" fill-opacity="0.13"/>
<rect x="1573.1" y="934" width="1" height="89.8" fill="#5b6fd0" fill-opacity="0.13"/>
<text x="170.65" y="1010" font-size="22" font-weight="700" fill="#8790ad" letter-spacing="-0.54">2018</text>
<text x="314.2" y="1010" font-size="22" font-weight="400" fill="#8790ad" letter-spacing="-0.95">Apr</text>
<text x="451.45" y="1010" font-size="22" font-weight="400" fill="#8790ad" letter-spacing="-1.2">Aug</text>
<text x="584" y="1010" font-size="22" font-weight="700" fill="#8790ad" letter-spacing="-0.1">2019</text>
<text x="729.2" y="1010" font-size="22" font-weight="400" fill="#8790ad" letter-spacing="-0.95">Apr</text>
<text x="866.45" y="1010" font-size="22" font-weight="400" fill="#8790ad" letter-spacing="-1.2">Aug</text>
<text x="998.3" y="1010" font-size="22" font-weight="700" fill="#8790ad" letter-spacing="0.7">2020</text>
<text x="1143.7" y="1010" font-size="22" font-weight="400" fill="#8790ad" letter-spacing="-0.95">Apr</text>
<text x="1280.95" y="1010" font-size="22" font-weight="400" fill="#8790ad" letter-spacing="-1.2">Aug</text>
<text x="1413.8" y="1010" font-size="22" font-weight="700" fill="#8790ad" letter-spacing="-0.64">2021</text>
<text x="1557.2" y="1010" font-size="22" font-weight="400" fill="#8790ad" letter-spacing="-0.95">Apr</text>
<path d="M99.4 1013.8 L105.4 1013.8 L112.4 1013.7 L152.4 1013.6 L192.4 1013.5 L207.9 1013.4 L227.4 1013.5 L252.4 1013.5 L302.4 1013.5 L332.4 1013.4 L402.4 1013.4 L472.4 1013.3 L492.4 1013.4 L522.4 1013.3 L562.4 1013.3 L582.4 1013.3 L592.4 1013.2 L611.3 1013.2 L619.9 1013.4 L652.4 1013.3 L689.2 1013.3 L697.9 1013.1 L712.4 1013 L738.3 1013 L746.9 1013.1 L772.4 1013 L803.2 1013 L806.1 1012.8 L813.4 1012.8 L824.9 1012.6 L843.7 1012.6 L852.4 1012.7 L863.9 1012.5 L884.1 1012.2 L900 1011.6 L908.6 1011.2 L915.8 1011 L930.3 1010.7 L936 1010.8 L953.4 1010.6 L973.6 1010.7 L998.1 1010.4 L1012.4 1010.1 L1021.2 1009.8 L1025.5 1009.2 L1032.7 1008.7 L1037.1 1008.7 L1047.2 1007.8 L1051.5 1007.9 L1058.7 1007.2 L1062.4 1007.1 L1072.9 1005.8 L1078.7 1005.8 L1088 1004 L1093.9 1004.2 L1097.4 1003.9 L1109 1003.4 L1111.3 1002.9 L1117.2 1002.5 L1119.5 1001.9 L1123 1002.1 L1130 1001.9 L1137 1001.7 L1139.3 1001.8 L1140.5 999.6 L1142.8 999.6 L1149.8 999.6 L1157.5 999.6 L1158 999.6 L1184.6 999.6 L1185.2 991.2 L1188.2 989.6 L1194.1 988.8 L1203.4 988.2 L1206.9 987.8 L1213.9 987.3 L1218.5 985.9 L1223.7 985.4 L1227.4 986 L1233.7 985.6 L1243 984.5 L1245.3 984.7 L1252.3 984.1 L1260.5 983.7 L1271 983.4 L1274.5 982.9 L1279.1 983.4 L1283.8 983.6 L1285.7 984.1 L1293.1 984 L1297.8 983.5 L1304.8 983.1 L1308.4 981.7 L1312.6 981.5 L1316 981.6 L1321.1 981.3 L1325.4 980 L1327.9 979.5 L1330.5 979.3 L1333.9 978.4 L1337.3 978.2 L1340.7 977.5 L1344.1 977.2 L1347 977.6 L1351.8 977.7 L1353.5 978.2 L1358.6 977.9 L1362 978 L1366.3 977.3 L1369.7 977 L1373.9 976.1 L1377.3 975.6 L1379 975.8 L1390.1 975.9 L1390.9 973.9 L1394.3 973.2 L1396.9 971.8 L1400.3 971.2 L1404.6 970.6 L1406.6 968.7 L1411.4 968.5 L1413.1 968 L1417.3 967.9 L1423.3 967.3 L1427.5 966.8 L1430.1 967 L1431.8 967.4 L1436.9 967.2 L1442.9 966.3 L1444.2 970 L1445.4 965.8 L1448 965.3 L1451.4 964.2 L1455.6 963.6 L1459 962.7 L1460.3 966.6 L1462 961.4 L1464.3 960 L1465.7 959.1 L1471.9 958.8 L1474.4 957.9 L1478.6 957.3 L1482.9 956.3 L1489.6 955.8 L1495.5 955.8 L1498.9 955.1 L1504.8 954.7 L1507.3 955 L1510.7 955.9 L1514.9 955.8 L1520.8 955.9 L1524.2 955.4 L1526.7 955.3 L1531.7 956.3 L1535.1 956.3 L1538.5 957 L1543 956.8 L1545.2 957.4 L1549.4 957.6 L1557 958.5 L1561.2 958.7 L1566.3 958.8 L1568 959.1 L1573 959.4 L1579.8 960.1 L1584 960.3 L1587.4 957.8 L1590.7 956.3 L1595 955.4 L1599.2 955 L1601.7 955 L1604.2 954.6 L1609.3 954.2 L1612.7 954.1 L1614.3 954.5 L1620.2 954.4 L1625.3 953.9 L1629.2 952.2 L1632.9 952.3 L1636.3 952.2 L1647.2 952.2 L1650.6 952.6 L1654 952.6 L1657.3 952.8 L1659 953.3 L1663.2 953.4 L1667.4 953.1 L1672 953 L1675 953.7 L1680.9 954 L1684.3 954 L1691.9 954.5 L1695.6 954.9 L1699 955.9 L1702.3 955.8 L1703.9 955.8" fill="none" stroke="#5273f2" stroke-width="1.8" stroke-linejoin="round"/>
<g filter="url(#sh)"><rect x="1688" y="959.5" width="19.2" height="34.5" rx="9.6" fill="#fff"/></g>
<rect x="1695.3" y="971" width="1.3" height="11.8" fill="#8a94ab"/><rect x="1699.4" y="971" width="1.3" height="11.8" fill="#8a94ab"/>
</g>
<g filter="url(#sh)"><rect x="90.7" y="959.5" width="19.2" height="34.5" rx="9.6" fill="#fff"/></g>
<rect x="97.8" y="971" width="1.3" height="11.8" fill="#8a94ab"/><rect x="101.9" y="971" width="1.3" height="11.8" fill="#8a94ab"/>
<text x="30" y="69.2" font-size="32.4" font-weight="700" fill="#0d1421" letter-spacing="0.04">USD Coin to USD Chart</text>
<text x="53" y="168.1" font-size="22" font-weight="700" fill="#58667e" letter-spacing="-0.2">Price</text>
<text x="143.8" y="168.1" font-size="22" font-weight="700" fill="#58667e" letter-spacing="0.27">Market Cap</text>
<text x="303.7" y="168.1" font-size="22" font-weight="700" fill="#58667e" letter-spacing="-0.1">Candle Chart</text>
<text x="1101.03" y="164.9" font-size="22" font-weight="400" fill="#58667e" letter-spacing="-1" stroke="#58667e" stroke-width="0.85">1D</text>
<text x="1160.12" y="164.9" font-size="22" font-weight="400" fill="#58667e" letter-spacing="-0.59" stroke="#58667e" stroke-width="0.85">7D</text>
<text x="1221.13" y="164.9" font-size="22" font-weight="400" fill="#58667e" letter-spacing="-1" stroke="#58667e" stroke-width="0.85">1M</text>
<text x="1284.62" y="164.9" font-size="22" font-weight="400" fill="#58667e" letter-spacing="1.61" stroke="#58667e" stroke-width="0.85">3M</text>
<text x="1348.13" y="164.9" font-size="22" font-weight="400" fill="#58667e" letter-spacing="-1" stroke="#58667e" stroke-width="0.85">1Y</text>
<text x="1408.52" y="164.9" font-size="22" font-weight="400" fill="#58667e" letter-spacing="0.32" stroke="#58667e" stroke-width="0.85">YTD</text>
<text x="1486.52" y="164.9" font-size="22" font-weight="400" fill="#58667e" letter-spacing="-0.48" stroke="#58667e" stroke-width="0.85">ALL</text>
<text x="1637" y="164.4" font-size="22" font-weight="700" fill="#58667e" letter-spacing="-1.08">LOG</text>
<text x="85.7" y="1072.2" font-size="25.4" font-weight="400" fill="#0d1421" letter-spacing="-0.79">USD</text>
<text x="242.3" y="1072.2" font-size="25.4" font-weight="400" fill="#0d1421" letter-spacing="-0.22">BTC</text>
<text x="1274.3" y="1070.6" font-size="25.3" font-weight="400" fill="#58667e" letter-spacing="0.41">Want more data?</text>
<text x="1482.4" y="1070.6" font-size="25.3" font-weight="400" fill="#3861fb" letter-spacing="0.6">Check out our API</text>
</svg>
</div></body></html>
